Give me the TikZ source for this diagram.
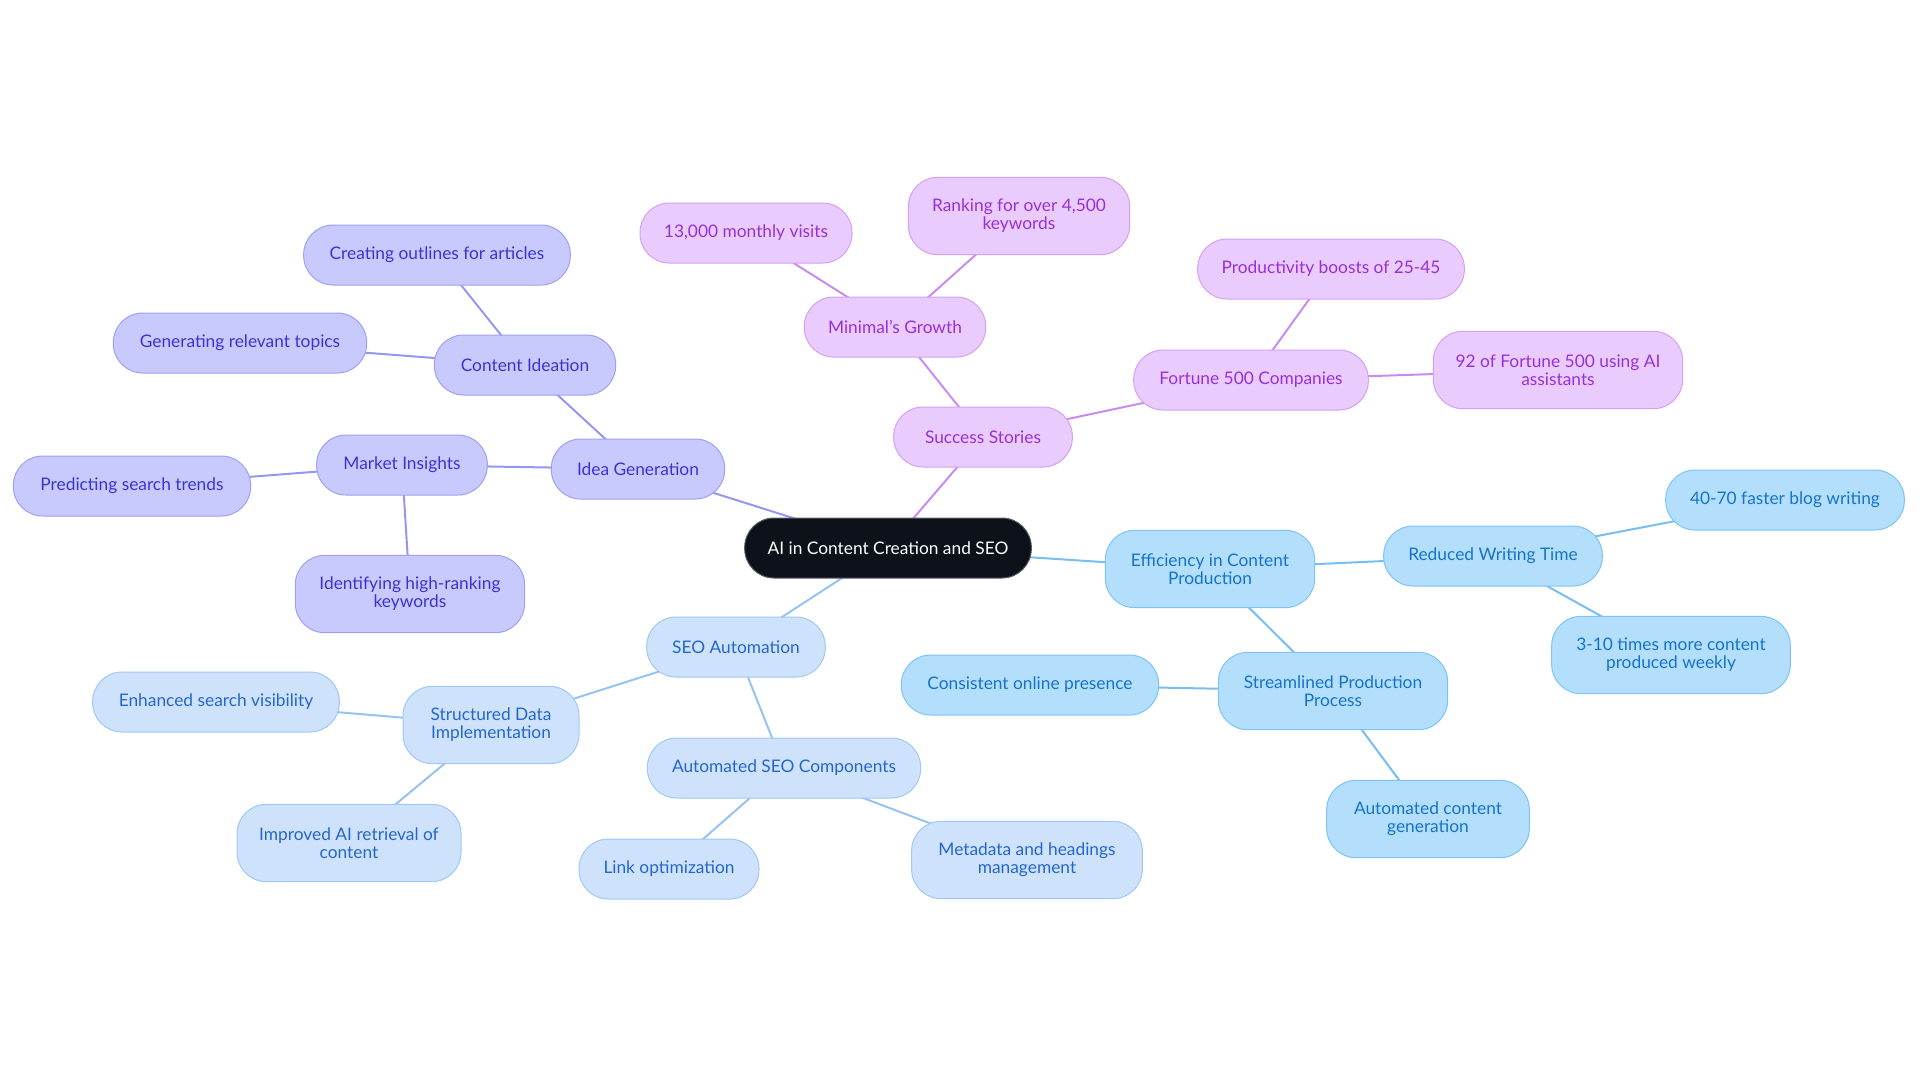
\documentclass[tikz,border=0pt]{standalone}
\usepackage{fontspec}
\setmainfont{Lato}
\usetikzlibrary{backgrounds}

\definecolor{rootFill}{RGB}{12,17,26}
\definecolor{rootDraw}{RGB}{90,94,100}
\definecolor{ideaFill}{RGB}{200,202,254}
\definecolor{ideaDraw}{RGB}{158,160,245}
\definecolor{ideaText}{RGB}{58,52,210}
\definecolor{ideaLine}{RGB}{150,150,240}
\definecolor{succFill}{RGB}{233,204,253}
\definecolor{succDraw}{RGB}{212,160,245}
\definecolor{succText}{RGB}{152,48,215}
\definecolor{succLine}{RGB}{200,140,240}
\definecolor{effiFill}{RGB}{179,223,253}
\definecolor{effiDraw}{RGB}{125,196,245}
\definecolor{effiText}{RGB}{22,115,200}
\definecolor{effiLine}{RGB}{120,190,240}
\definecolor{seoFill}{RGB}{206,227,251}
\definecolor{seoDraw}{RGB}{160,200,242}
\definecolor{seoText}{RGB}{36,102,204}
\definecolor{seoLine}{RGB}{150,195,240}

\tikzset{
	mmnode/.style={rounded corners=22pt, minimum height=45pt, inner sep=2pt, align=center, line width=0.75pt, font=\fontsize{13}{13.5}\selectfont},
	twoline/.style={minimum height=58pt},
	rootbox/.style={mmnode, draw=rootDraw, fill=rootFill, text=white},
	ideabox/.style={mmnode, draw=ideaDraw, fill=ideaFill, text=ideaText},
	succbox/.style={mmnode, draw=succDraw, fill=succFill, text=succText},
	effibox/.style={mmnode, draw=effiDraw, fill=effiFill, text=effiText},
	seobox/.style={mmnode, draw=seoDraw, fill=seoFill, text=seoText},
	link/.style={line width=1.5pt}}

\begin{document}
\begin{tikzpicture}[x=0.75pt,y=0.75pt,yscale=-1]
	\useasboundingbox (0,0) rectangle (1920,1083);
	
	%Root
	\node[rootbox, minimum width=215pt] (root) at (888,548) {AI in Content Creation and SEO};
	
	%Idea Generation branch
	\node[ideabox, minimum width=130pt] (idea) at (638,469) {Idea Generation};
	\node[ideabox, minimum width=136pt] (ideation) at (525,365) {Content Ideation};
	\node[ideabox, minimum width=200pt] (outlines) at (437,255) {Creating outlines for articles};
	\node[ideabox, minimum width=190pt] (topics) at (240,343) {Generating relevant topics};
	\node[ideabox, minimum width=128pt] (market) at (402,465) {Market Insights};
	\node[ideabox, minimum width=178pt] (trends) at (132,486) {Predicting search trends};
	\node[ideabox, twoline, minimum width=172pt] (keywords) at (410,594) {Identifying high-ranking\\keywords};
	
	%Success Stories branch
	\node[succbox, minimum width=134pt] (success) at (983,437) {Success Stories};
	\node[succbox, minimum width=136pt] (minimal) at (895,327) {Minimal's Growth};
	\node[succbox, minimum width=159pt] (visits) at (746,233) {13,000 monthly visits};
	\node[succbox, twoline, minimum width=166pt] (ranking) at (1019,216) {Ranking for over 4,500\\keywords};
	\node[succbox, minimum width=176pt] (fortune) at (1251,380) {Fortune 500 Companies};
	\node[succbox, minimum width=200pt] (boosts) at (1331,269) {Productivity boosts of 25-45};
	\node[succbox, twoline, minimum width=187pt] (assistants) at (1558,370) {92 of Fortune 500 using AI\\assistants};
	
	%Efficiency branch
	\node[effibox, twoline, minimum width=157pt] (efficiency) at (1210,569) {Efficiency in Content\\Production};
	\node[effibox, minimum width=164pt] (reduced) at (1493,556) {Reduced Writing Time};
	\node[effibox, minimum width=179pt] (faster) at (1785,500) {40-70 faster blog writing};
	\node[effibox, twoline, minimum width=179pt] (weekly) at (1671,655) {3-10 times more content\\produced weekly};
	\node[effibox, twoline, minimum width=172pt] (streamlined) at (1333,691) {Streamlined Production\\Process};
	\node[effibox, minimum width=193pt] (presence) at (1030,685) {Consistent online presence};
	\node[effibox, twoline, minimum width=152pt] (generation) at (1428,819) {Automated content\\generation};
	
	%SEO Automation branch
	\node[seobox, minimum width=134pt] (seo) at (736,647) {SEO Automation};
	\node[seobox, twoline, minimum width=132pt] (structured) at (491,725) {Structured Data\\Implementation};
	\node[seobox, minimum width=185pt] (visibility) at (216,702) {Enhanced search visibility};
	\node[seobox, twoline, minimum width=168pt] (retrieval) at (349,843) {Improved AI retrieval of\\content};
	\node[seobox, minimum width=205pt] (components) at (784,768) {Automated SEO Components};
	\node[seobox, minimum width=135pt] (linkopt) at (669,869) {Link optimization};
	\node[seobox, twoline, minimum width=173pt] (metadata) at (1027,860) {Metadata and headings\\management};
	
	%Connectors (centre to centre, behind the boxes)
	\begin{pgfonlayer}{background}
		\foreach \a/\b in {root/idea, idea/ideation, idea/market, ideation/outlines, ideation/topics, market/trends, market/keywords}
			\draw[link, ideaLine] (\a.center) -- (\b.center);
		\foreach \a/\b in {root/success, success/minimal, success/fortune, minimal/visits, minimal/ranking, fortune/boosts, fortune/assistants}
			\draw[link, succLine] (\a.center) -- (\b.center);
		\foreach \a/\b in {root/efficiency, efficiency/reduced, efficiency/streamlined, reduced/faster, reduced/weekly, streamlined/presence, streamlined/generation}
			\draw[link, effiLine] (\a.center) -- (\b.center);
		\foreach \a/\b in {root/seo, seo/structured, seo/components, structured/visibility, structured/retrieval, components/linkopt, components/metadata}
			\draw[link, seoLine] (\a.center) -- (\b.center);
	\end{pgfonlayer}
	
\end{tikzpicture}
\end{document}
